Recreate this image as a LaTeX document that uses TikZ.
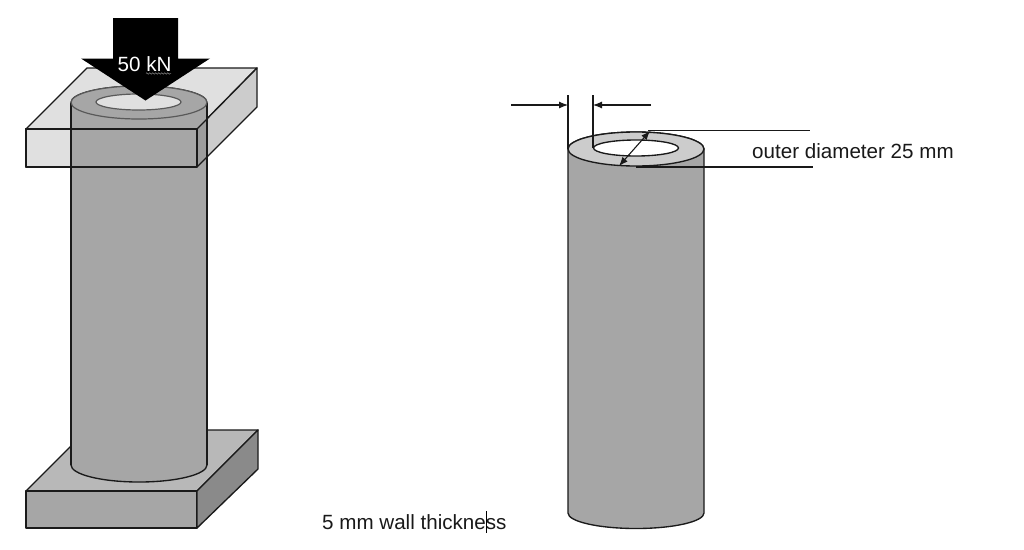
\documentclass[tikz,border=0pt]{standalone}
\usepackage{fontspec}
\setmainfont{Liberation Sans}
\usetikzlibrary{arrows.meta,decorations.pathmorphing}
\definecolor{cyl}{HTML}{A6A6A6}
\definecolor{ringtop}{HTML}{CCCCCC}
\definecolor{plate}{HTML}{E0E0E0}
\definecolor{plateside}{HTML}{CCCCCC}
\definecolor{basetop}{HTML}{B8B8B8}
\definecolor{baseside}{HTML}{8A8A8A}
\definecolor{edge}{HTML}{1A1A1A}
\tikzset{
  solidpart/.style={draw=edge,line width=1.35pt,line join=round},
  softpart/.style={draw=black!65,line width=1.2pt},
  dimline/.style={draw=black!90,line width=1.1pt},
  dimarrow/.style={dimline,-{Latex[length=9pt,width=7pt]}},
  dimboth/.style={dimline,{Latex[length=9pt,width=7pt]}-{Latex[length=9pt,width=7pt]}},
  lbl/.style={inner sep=0pt,font=\fontsize{20.6}{22}\selectfont,anchor=base west,text=black!90}
}
\begin{document}
\begin{tikzpicture}[x=1pt,y=-1pt]
\useasboundingbox (0,0) rectangle (1024,549);
\fill[white] (0,0) rectangle (1024,549);

% base plate
\path[solidpart,fill=basetop] (26,491) -- (87,430) -- (258,430) -- (197,491) -- cycle;
\path[solidpart,fill=cyl] (26,491) rectangle (197,528);
\path[solidpart,fill=baseside] (197,491) -- (258,430) -- (258,469) -- (197,528) -- cycle;

% top plate, behind the column
\path[solidpart,fill=plate] (26,129) -- (87,68) -- (257,68) -- (197,129) -- cycle;
\path[solidpart,fill=plateside] (197,129) -- (257,68) -- (257,107) -- (197,167) -- cycle;
\path[solidpart,fill=plate] (26,129) rectangle (197,167);

% left column
\path[solidpart,fill=cyl] (71,102.5) -- (71,465) arc[start angle=180,end angle=0,x radius=68,y radius=17] -- (207,102.5) arc[start angle=0,end angle=-180,x radius=68,y radius=16.5] -- cycle;
\fill[black!39] (197,129) -- (207,119) -- (207,157) -- (197,167) -- cycle;
\draw[solidpart] (71,102.5) -- (71,465);
\draw[solidpart] (207,102.5) -- (207,465);
\path[softpart,fill=cyl] (139,102.5) ellipse[x radius=68,y radius=16.5];
\path[softpart,fill=plate] (138.5,102) ellipse[x radius=42.5,y radius=8];

% top plate outline seen through
\draw[solidpart] (26,129) rectangle (197,167);
\draw[solidpart] (197,129) -- (207,119);
\draw[solidpart] (197,167) -- (207,157);

% load arrow
\fill[black] (113,18) -- (178,18) -- (178,58.5) -- (210,58.5) -- (145.5,100.5) -- (81,58.5) -- (113,58.5) -- cycle;
\node[lbl,text=white] (load) at (117.5,71) {50 kN};
\draw[gray,line width=0.5pt,decorate,decoration={zigzag,segment length=3pt,amplitude=0.8pt}] (146,73.5) -- (171,73.5);

% right column
\path[solidpart,fill=cyl] (568,149) -- (568,513) arc[start angle=180,end angle=0,x radius=68,y radius=15.5] -- (704,149) arc[start angle=0,end angle=-180,x radius=68,y radius=17] -- cycle;
\path[solidpart,fill=ringtop] (636,149) ellipse[x radius=68,y radius=17];
\path[solidpart,fill=white] (636,148) ellipse[x radius=42.5,y radius=8];

% wall thickness dimension
\coordinate (wallA) at (568,95);
\coordinate (wallAe) at (568,149);
\coordinate (wallB) at (593,95);
\coordinate (wallBe) at (593,148);
\coordinate (arrL) at (511,105);
\coordinate (arrLe) at (568,105);
\coordinate (arrR) at (651,105);
\coordinate (arrRe) at (593,105);
\draw[dimline] (wallA) -- (wallAe);
\draw[dimline] (wallB) -- (wallBe);
\draw[dimarrow] (arrL) -- (arrLe);
\draw[dimarrow] (arrR) -- (arrRe);

% outer diameter dimension
\coordinate (odTop) at (648,130.5);
\coordinate (odTopEnd) at (810,130.5);
\coordinate (odBot) at (636,167);
\coordinate (odBotEnd) at (813,167);
\coordinate (odA) at (650,131);
\coordinate (odB) at (619,166);
\draw[dimline] (odTop) -- (odTopEnd);
\draw[dimline] (odBot) -- (odBotEnd);
\draw[dimboth] (odA) -- (odB);

\node[lbl] (outer) at (752,158) {outer diameter 25 mm};
\node[lbl] (wall) at (322,529) {5 mm wall thickness};
\coordinate (curT) at (486.5,511);
\coordinate (curB) at (486.5,533);
\draw[black,line width=0.5pt] (curT) -- (curB);
\end{tikzpicture}
\end{document}
